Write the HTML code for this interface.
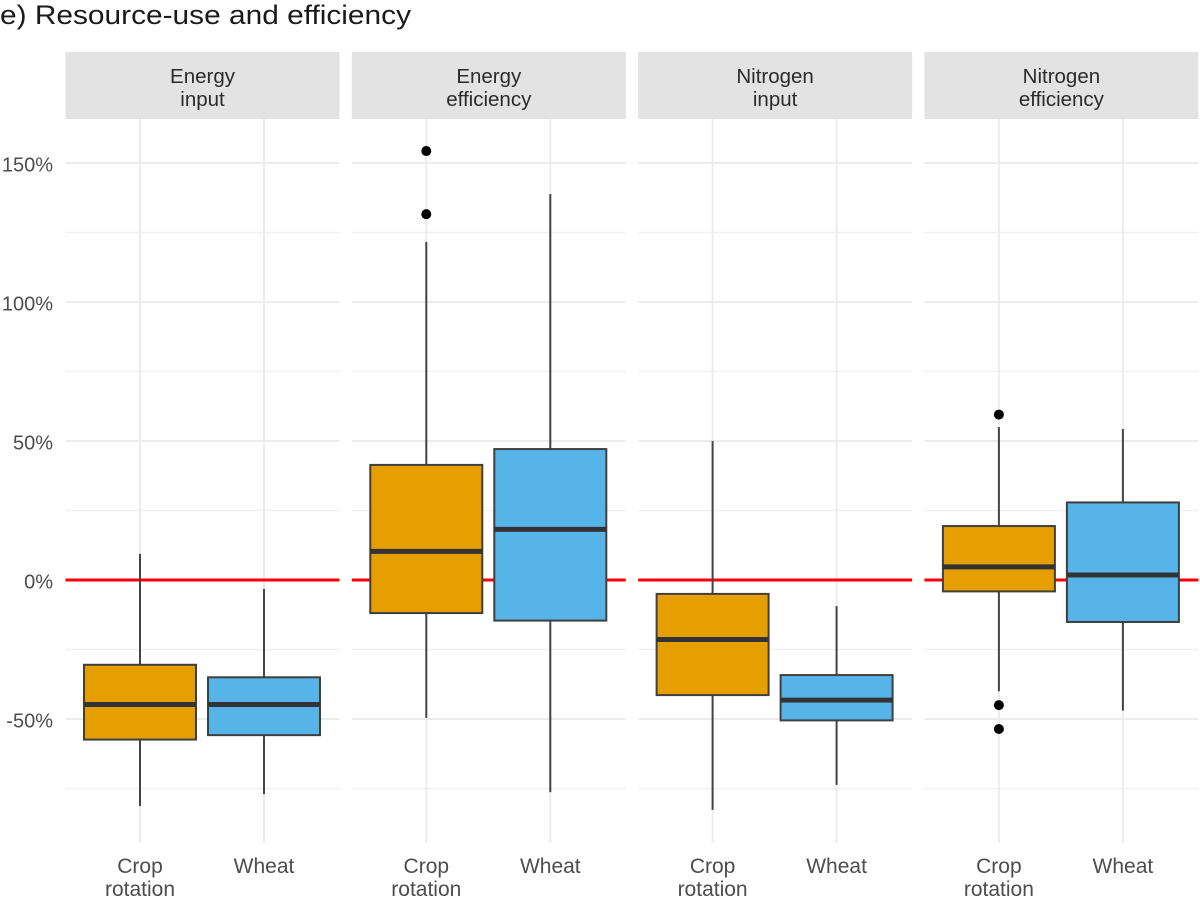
<!DOCTYPE html>
<html><head><meta charset="utf-8"><title>Resource-use and efficiency</title>
<style>html,body{margin:0;padding:0;background:#fff;overflow:hidden}svg{display:block}text{font-family:"Liberation Sans",sans-serif}</style>
</head><body>
<svg id="chart" width="1200" height="898" viewBox="0 0 1200 898" xmlns="http://www.w3.org/2000/svg">
<text x="0" y="24" font-size="27" fill="#1a1a1a" textLength="411" lengthAdjust="spacingAndGlyphs">e) Resource-use and efficiency</text>
</svg>
<script>
const panelTitles = [["Energy","input"],["Energy","efficiency"],["Nitrogen","input"],["Nitrogen","efficiency"]];
const categories = [["Crop","rotation"],["Wheat"]];
const yTicks = [150,100,50,0,-50];
const yMinorTicks = [125,75,25,-25,-75];
const lowWhisker = [[-81.3,-77],[-49.6,-76.3],[-82.7,-73.7],[-40,-47]];
const q1 = [[-57.4,-55.8],[-11.9,-14.6],[-41.4,-50.5],[-4.1,-15.1]];
const median = [[-44.8,-44.8],[10.3,18.2],[-21.4,-43.2],[4.7,1.8]];
const q3 = [[-30.5,-35],[41.4,47.1],[-5,-34.2],[19.4,27.9]];
const highWhisker = [[9.4,-3.2],[121.6,138.8],[50,-9.4],[55,54.3]];
const outliers = [[[],[]],[[154.3,131.6],[]],[[],[]],[[59.5,-45,-53.6],[]]];
const refValue = 0;

const svg = document.getElementById('chart');
const NS = 'http://www.w3.org/2000/svg';
const panelLeft = 65.5, panelStep = 286.3, panelWidth = 274;
const plotTop = 119, plotBottom = 843, stripTop = 52;
const fills = ['#E69F00','#56B4E9'];
function yScale(v){ return 580 - v * 2.78; }
function panelX(p){ return panelLeft + p * panelStep; }
function catX(p,c){ return panelX(p) + 74.5 + c * 124; }
function make(tag, attrs, parent){
  const el = document.createElementNS(NS, tag);
  for (const k in attrs) el.setAttribute(k, attrs[k]);
  (parent || svg).appendChild(el);
  return el;
}

yTicks.forEach(function(t){
  const lab = make('text',{x:53,y:yScale(t)+8.5,'font-size':20,fill:'#4d4d4d','text-anchor':'end'});
  
  
  lab.textContent = t + '%';
});

panelTitles.forEach(function(title,p){
  const g = make('g',{});
  
  
  const x0 = panelX(p), x1 = x0 + panelWidth;
  const strip = make('rect',{x:x0,y:stripTop,width:panelWidth,height:plotTop-stripTop,fill:'#e3e3e3'},g);
  
  
  title.forEach(function(line,i){
    const s = make('text',{x:x0+panelWidth/2,y:83+i*23,'font-size':20.5,fill:'#2b2b2b','text-anchor':'middle'},g);
    
    
    s.textContent = line;
  });
  yMinorTicks.forEach(function(t){
    const l = make('line',{x1:x0,x2:x1,y1:yScale(t),y2:yScale(t),stroke:'#f1f1f1','stroke-width':1.5},g);
    
    
  });
  yTicks.forEach(function(t){
    const l = make('line',{x1:x0,x2:x1,y1:yScale(t),y2:yScale(t),stroke:'#ececec','stroke-width':2},g);
    
    
  });
  categories.forEach(function(cat,c){
    const l = make('line',{x1:catX(p,c),x2:catX(p,c),y1:plotTop,y2:plotBottom,stroke:'#ececec','stroke-width':2},g);
    
    
  });
  const ref = make('line',{x1:x0,x2:x1,y1:yScale(refValue),y2:yScale(refValue),stroke:'#ff0000','stroke-width':3},g);
  
  
  categories.forEach(function(cat,c){
    const cx = catX(p,c), hw = 56;
    const box = make('g',{},g);
    
    
    const w = make('line',{x1:cx,x2:cx,y1:yScale(highWhisker[p][c]),y2:yScale(lowWhisker[p][c]),stroke:'#444','stroke-width':2},box);
    
    
    const r = make('rect',{x:cx-hw,width:hw*2,y:yScale(q3[p][c]),height:yScale(q1[p][c])-yScale(q3[p][c]),fill:fills[c],stroke:'#3f3f3f','stroke-width':2},box);
    
    
    const m = make('line',{x1:cx-hw,x2:cx+hw,y1:yScale(median[p][c]),y2:yScale(median[p][c]),stroke:'#333','stroke-width':5},box);
    
    
    outliers[p][c].forEach(function(v){
      const o = make('circle',{cx:cx,cy:yScale(v),r:5,fill:'#000'},box);
      
      
    });
    cat.forEach(function(line,i){
      const t = make('text',{x:cx,y:873+i*23,'font-size':21,fill:'#4d4d4d','text-anchor':'middle'},g);
      
      
      t.textContent = line;
    });
  });
});
</script>
</body></html>
